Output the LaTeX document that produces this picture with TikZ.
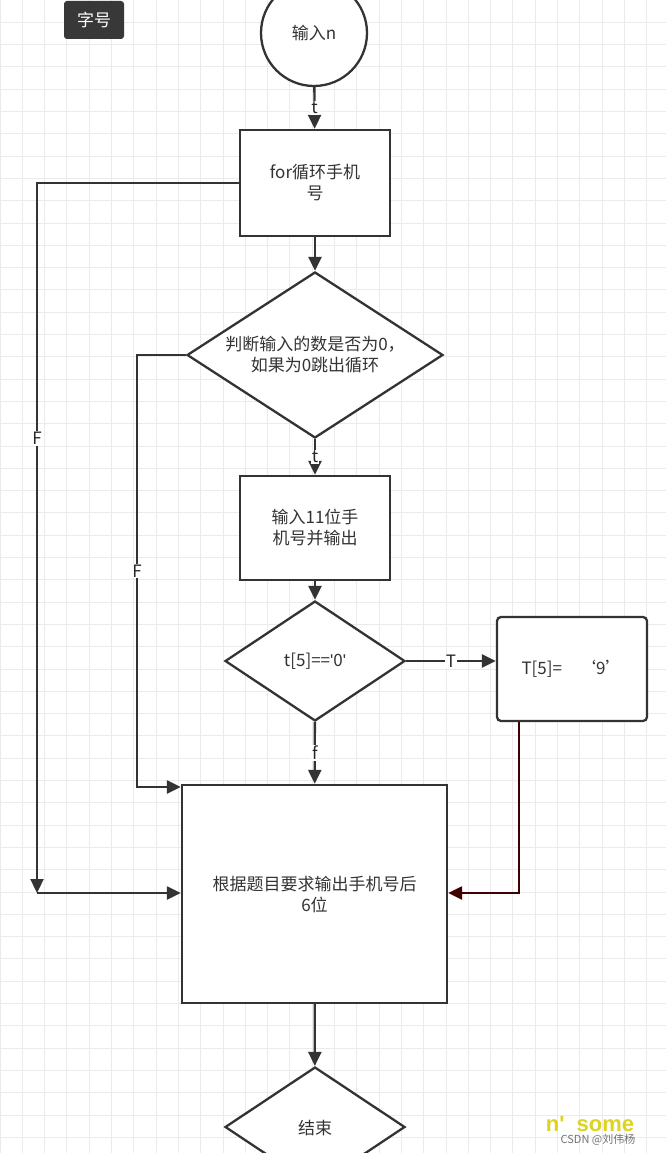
\documentclass[tikz,border=0pt]{standalone}
\usepackage{fontspec}
\setmainfont{Noto Sans CJK SC}
\newfontfamily\lat{Liberation Sans}
\usetikzlibrary{arrows.meta,shapes.geometric}
\begin{document}
\begin{tikzpicture}[x=1pt,y=-1pt,
  box/.style={draw=black!80,line width=2.3pt,fill=white,align=center,font=\fontsize{17}{21}\selectfont,text=black!80},
  arr/.style={draw=black!80,line width=2.3pt,-{Triangle[length=14pt,width=13pt]}},
  lab/.style={fill=white,inner sep=1pt,font=\fontsize{17}{19}\selectfont,text=black!85}]
\clip (0,0) rectangle (666,1153);
\fill[white] (0,0) rectangle (666,1153);
\foreach \i in {0,...,30} {\draw[black!8,line width=1pt] (\i*22.3,0) -- (\i*22.3,1153);}
\foreach \i in {0,...,52} {\draw[black!8,line width=1pt] (0,\i*22.3) -- (666,\i*22.3);}
% tooltip
\node[fill=black!78,rounded corners=3pt,text=white,minimum width=60pt,minimum height=38pt,font=\fontsize{17}{19}\selectfont] (tip) at (94,20) {字号};
% nodes
\node[box,circle,minimum size=106pt,inner sep=0pt] (start) at (314,33) {输入n};
\node[box,minimum width=150pt,minimum height=106pt] (loop) at (315,183) {for循环手机\\号};
\node[box,diamond,aspect=1.55,minimum width=256pt,minimum height=166pt,inner sep=0pt] (d1) at (315,355) {判断输入的数是否为0，\\如果为0跳出循环};
\node[box,minimum width=150pt,minimum height=104pt] (in) at (315,528) {输入11位手\\机号并输出};
\node[box,diamond,aspect=1.5,minimum width=180pt,minimum height=120pt,inner sep=0pt] (d2) at (315,661) {t[5]=={\lat\char"0027}0{\lat\char"0027}};
\node[box,rounded corners=4pt,minimum width=150pt,minimum height=104pt] (set) at (572,669) {T[5]=\quad‘9’};
\node[box,minimum width=265pt,minimum height=218pt] (out) at (314.5,894) {根据题目要求输出手机号后\\6位};
\node[box,diamond,aspect=1.5,minimum width=180pt,minimum height=120pt,inner sep=0pt] (end) at (315,1127) {};
\node[font=\fontsize{17}{19}\selectfont,text=black!80] (endt) at (315,1128) {结束};
% connectors
\draw[arr] (start) -- node[lab]{t} (loop);
\draw[arr] (loop) -- (d1);
\draw[arr] (d1) -- node[lab,pos=0.5]{t} (in);
\draw[arr] (in) -- (d2);
\draw[arr] (d2) -- node[lab]{T} (set.west |- d2);
\draw[arr] (d2) -- node[lab]{f} (out);
\coordinate (c1) at (137,355);
\coordinate (c2) at (137,787);
\draw[arr] (d1.west) -- (c1) -- node[lab,pos=0.5]{F} (c2) -- (out.west |- c2);
\coordinate (c3) at (37,183);
\coordinate (c4) at (37,893);
\draw[arr] (loop.west) -- (c3) -- node[lab,pos=0.36]{F} (c4);
\draw[arr] (c4) -- (out.west |- c4);
\coordinate (c5) at (519,893);
\draw[arr,draw=black!75!red] (set.south -| c5) -- (c5) -- (out.east |- c5);
\draw[arr] (out) -- (end);
% watermark
\node[font=\lat\bfseries\fontsize{22}{24}\selectfont,text=yellow!85!black] at (590,1124) {n{\char"0027}\ \ some};
\node[font=\fontsize{11}{13}\selectfont,text=black!55] at (598,1140) {CSDN @刘伟杨};
\end{tikzpicture}
\end{document}
